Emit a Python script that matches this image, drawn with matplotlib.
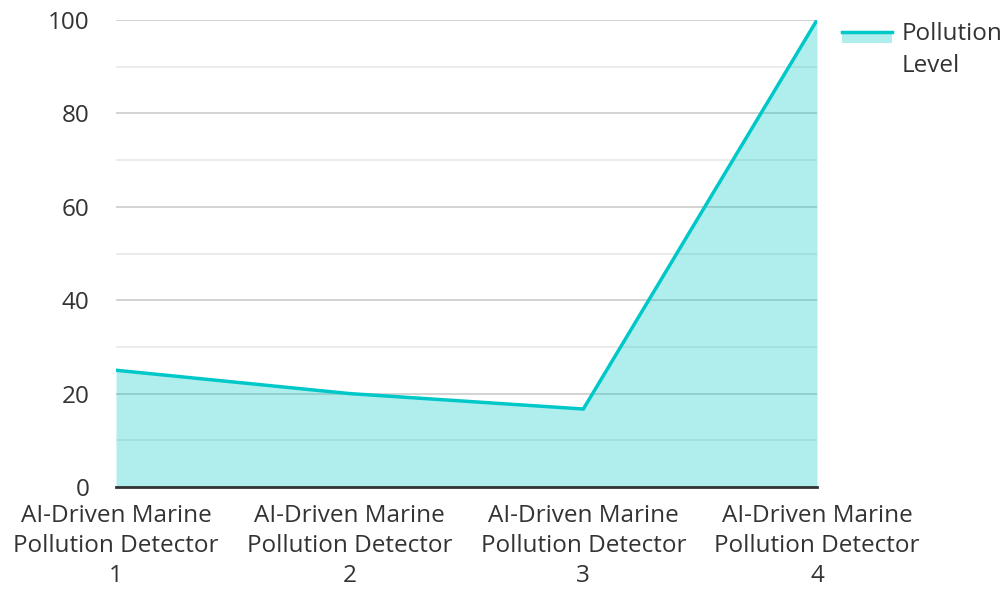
import matplotlib
matplotlib.use("Agg")
import matplotlib.pyplot as plt
from matplotlib.patches import Rectangle
from matplotlib.lines import Line2D

plt.rcParams['font.family'] = ['Open Sans', 'DejaVu Sans']

categories = ["AI-Driven Marine\nPollution Detector\n1",
              "AI-Driven Marine\nPollution Detector\n2",
              "AI-Driven Marine\nPollution Detector\n3",
              "AI-Driven Marine\nPollution Detector\n4"]
values = [25, 20, 16.7, 100]
series_name = "Pollution\nLevel"

line_color = '#00c8c8'
fill_color = '#00c8c8'
text_color = '#333333'
FS = 17.5

W, H = 1007, 590
fig = plt.figure(figsize=(W/100, H/100), dpi=100)
ax = fig.add_axes([116/W, 1 - 487/H, (817-116)/W, (487-20)/H])

x = list(range(len(values)))
ax.fill_between(x, values, 0, color=fill_color, alpha=0.31, linewidth=0, zorder=2)
ax.plot(x, values, color=line_color, linewidth=2.5, zorder=3, solid_joinstyle='miter')

ax.set_xlim(0, len(values) - 1)
ax.set_ylim(0, 100)
ax.set_yticks([0, 20, 40, 60, 80, 100])
ax.set_yticks([10, 30, 50, 70, 90], minor=True)
ax.grid(axis='y', which='major', color='#cccccc', linewidth=1.2, zorder=1)
ax.grid(axis='y', which='minor', color='#e8e8e8', linewidth=1.2, zorder=1)
ax.set_axisbelow(True)

ax.set_xticks(x)
ax.set_xticklabels(categories, fontsize=FS, color=text_color, linespacing=1.34)
ax.tick_params(axis='x', length=0, pad=12)
ax.tick_params(axis='y', which='both', length=0, pad=19, labelsize=FS, labelcolor=text_color)

for s in ['top', 'right', 'left']:
    ax.spines[s].set_visible(False)
ax.spines['bottom'].set_color('#333333')
ax.spines['bottom'].set_linewidth(2)
ax.spines['bottom'].set_zorder(4)

# legend (drawn in figure pixel coordinates)
def fx(px):
    return px / W

def fy(py):
    return 1 - py / H

fig.add_artist(Rectangle((fx(842), fy(43)), fx(892) - fx(842), fy(32) - fy(43),
                         transform=fig.transFigure, facecolor=fill_color, alpha=0.31,
                         linewidth=0))
fig.add_artist(Line2D([fx(842), fx(892)], [fy(32), fy(32)], transform=fig.transFigure,
                      color=line_color, linewidth=2.5))
for i, line in enumerate(series_name.split("\n")):
    fig.text(fx(902), fy(33.5 + 32 * i), line, fontsize=FS, color=text_color,
             ha='left', va='center')

fig.savefig('out.png', dpi=100)
